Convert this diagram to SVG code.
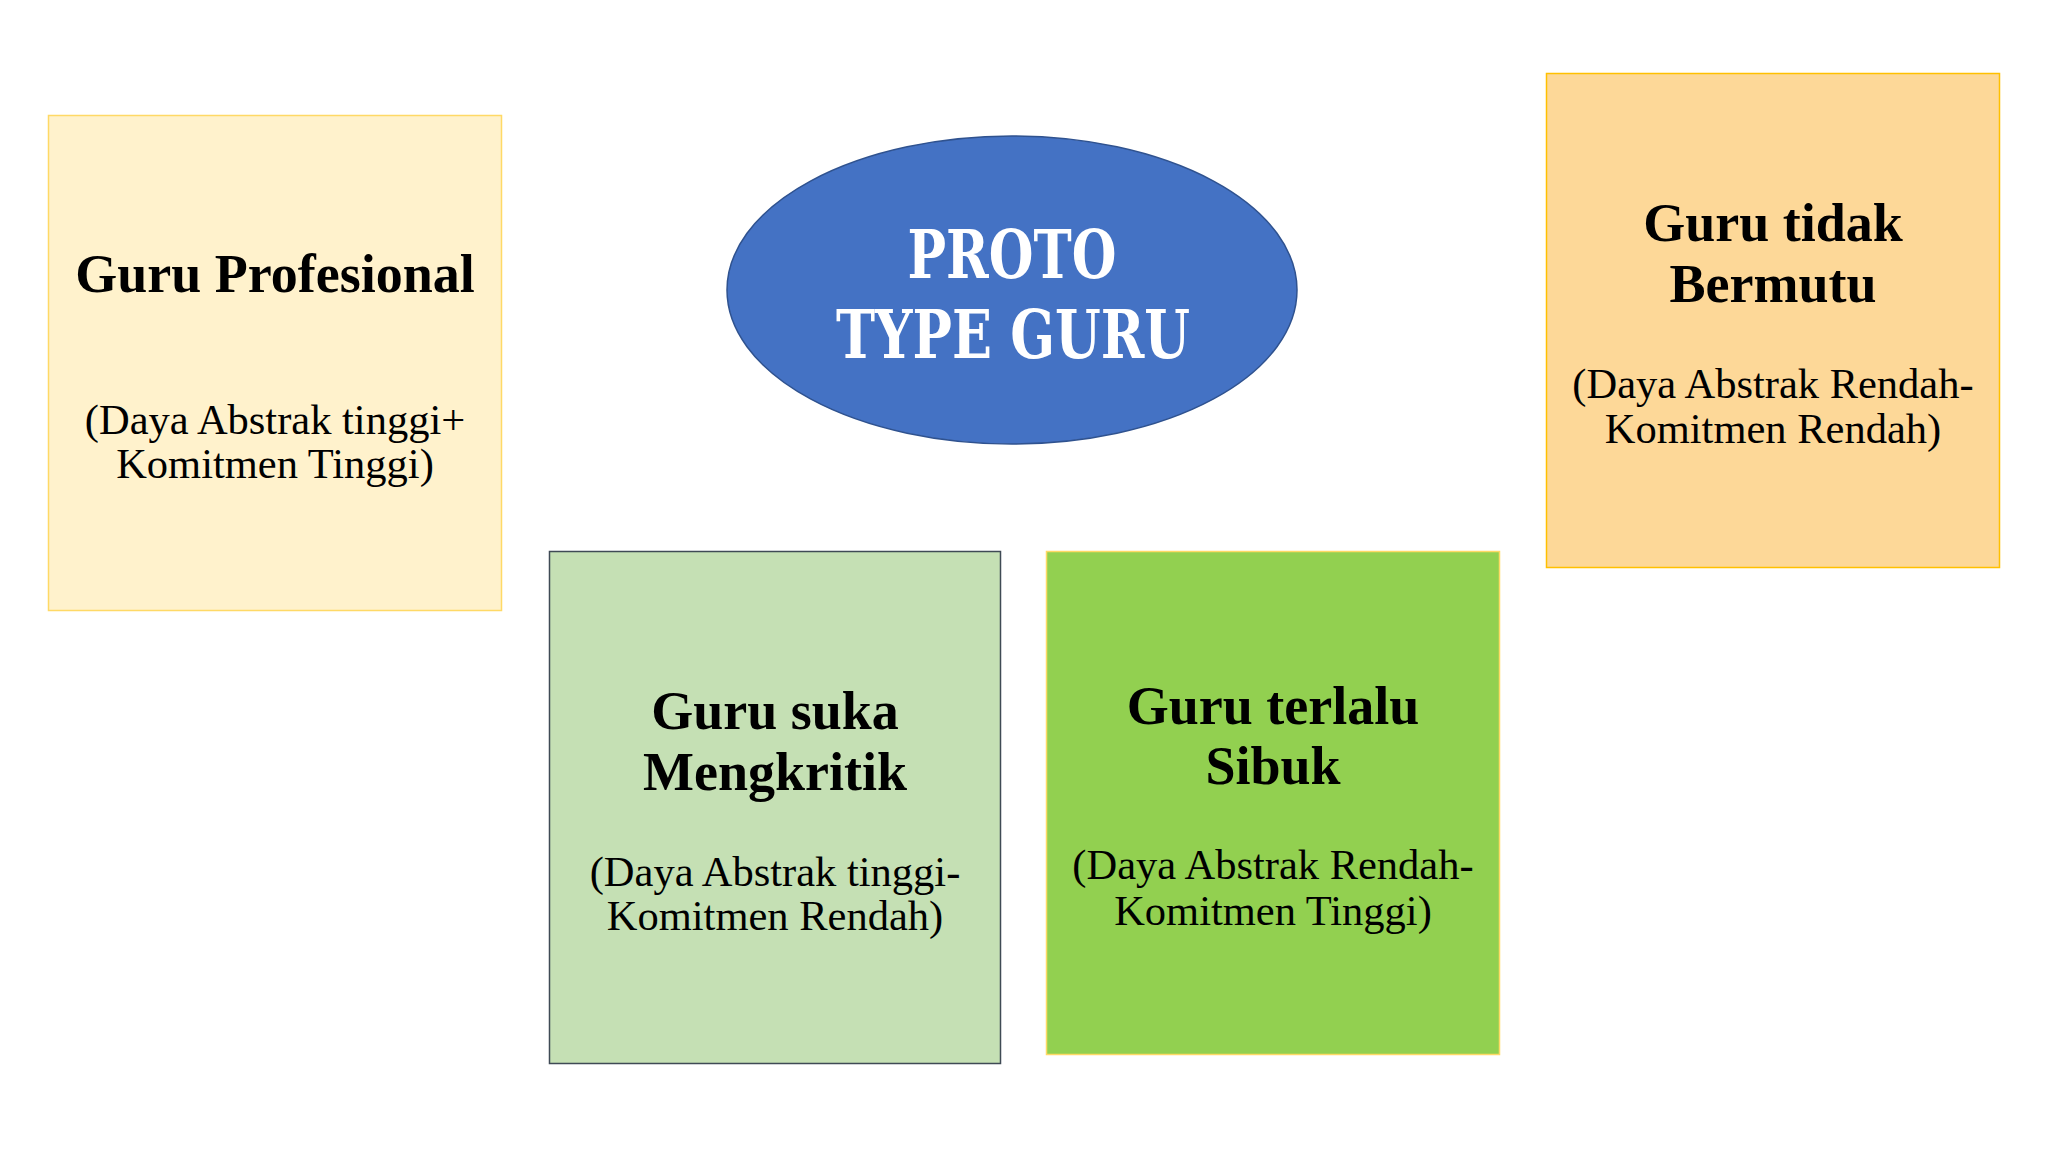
<svg xmlns="http://www.w3.org/2000/svg" width="2048" height="1152" viewBox="0 0 2048 1152">
<style>
.t{font-family:"Liberation Serif","Times New Roman",serif;font-weight:bold;font-size:54px;fill:#000;text-anchor:middle}
.s{font-family:"Liberation Serif","Times New Roman",serif;font-size:42.5px;fill:#000;text-anchor:middle}
.c{font-family:"DejaVu Serif",serif;font-weight:bold;font-size:68px;fill:#fff;text-anchor:middle}
</style>
<rect width="2048" height="1152" fill="#fff"/>
<g id="connectors"></g>
<g id="guru-profesional">
<rect x="48.5" y="115.5" width="453" height="495" fill="#FFF2CC" stroke="#FFD966" stroke-width="1.5"/>
<text class="t" x="275" y="292">Guru Profesional</text>
<text class="s" x="275" y="434">(Daya Abstrak tinggi+</text>
<text class="s" x="275" y="478">Komitmen Tinggi)</text>
</g>
<g id="proto-type-guru">
<ellipse cx="1012" cy="290" rx="285" ry="154" fill="#4472C4" stroke="#2F528F" stroke-width="1.5"/>
<text class="c" x="1012" y="278" textLength="209" lengthAdjust="spacingAndGlyphs">PROTO</text>
<text class="c" x="1013" y="358" textLength="354" lengthAdjust="spacingAndGlyphs">TYPE GURU</text>
</g>
<g id="guru-tidak-bermutu">
<rect x="1546.5" y="73.5" width="453" height="494" fill="#FDD898" stroke="#FFC000" stroke-width="1.5"/>
<text class="t" x="1773" y="241">Guru tidak</text>
<text class="t" x="1773" y="302">Bermutu</text>
<text class="s" x="1773" y="398">(Daya Abstrak Rendah-</text>
<text class="s" x="1773" y="443">Komitmen Rendah)</text>
</g>
<g id="guru-suka-mengkritik">
<rect x="549.5" y="551.5" width="451" height="512" fill="#C5E0B4" stroke="#3F4A55" stroke-width="1.5"/>
<text class="t" x="775" y="729">Guru suka</text>
<text class="t" x="775" y="790">Mengkritik</text>
<text class="s" x="775" y="886">(Daya Abstrak tinggi-</text>
<text class="s" x="775" y="930">Komitmen Rendah)</text>
</g>
<g id="guru-terlalu-sibuk">
<rect x="1046.5" y="551.5" width="453" height="503" fill="#92D050" stroke="#FFD966" stroke-width="1.5"/>
<text class="t" x="1273" y="724">Guru terlalu</text>
<text class="t" x="1273" y="784">Sibuk</text>
<text class="s" x="1273" y="879">(Daya Abstrak Rendah-</text>
<text class="s" x="1273" y="925">Komitmen Tinggi)</text>
</g>
</svg>
